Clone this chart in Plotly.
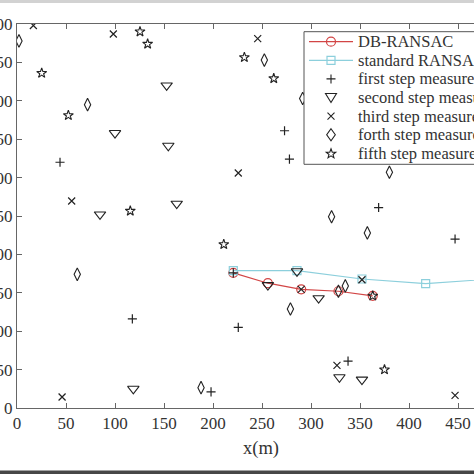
import math
import plotly.graph_objects as go

# ---- data ----
db_x = [220.7, 256, 290, 328, 363]
db_y = [176, 162.5, 154.5, 152, 146]

std_x = [220.7, 285.7, 352, 417, 485]
std_y = [179, 179, 168, 162, 168]

s1_x = [43.9, 117.7, 225.8, 198, 273, 278, 369, 447, 337.8, 220.7]
s1_y = [320, 116, 105, 21, 361, 324, 261, 220, 61, 176]

s2_x = [152.7, 100, 154.4, 84.7, 163, 118.7, 285.7, 256, 307.8, 329, 352]
s2_y = [420, 358, 341.5, 252, 266, 25, 178, 160, 143, 40, 37]

s3_x = [16.7, 98.3, 245.6, 46, 55.8, 225.8, 290, 352, 326.5, 447]
s3_y = [498, 487, 481, 14.3, 269.5, 306, 154.5, 167, 55.5, 16.5]

s4_x = [2, 72, 252.4, 291.5, 380, 321, 357.5, 61.5, 187.8, 279, 328, 335]
s4_y = [478, 395, 453, 403, 307, 249, 228, 174, 26.5, 129, 152, 159]

s5_x = [25.2, 52.4, 125.5, 133.3, 232, 262, 115.6, 211, 375, 363]
s5_y = [436, 381, 490, 474, 456.6, 429, 256.5, 213, 50, 146]

series_names = ["DB-RANSAC", "standard RANSAC", "first step measure", "second step measure",
                "third step measure", "forth step measure", "fifth step measure"]

x_ticks = [0, 50, 100, 150, 200, 250, 300, 350, 400, 450, 500]
y_ticks = [0, 50, 100, 150, 200, 250, 300, 350, 400, 450, 500]

FONT = "Liberation Serif"
BLK = "#222222"
TXT = "#333333"
RED = "#d24545"
CYAN = "#8ccfdc"
AX = "#666666"

# plot area in pixels
L, R, T, B = 17, 474, 24, 408
W, H = R - L, B - T


def px(x):
    return (x - L) / W


def py(y):
    return (B - y) / H


def path(pts_list):
    s = ""
    for pts, closed in pts_list:
        s += "M" + " L".join(f"{px(a):.5f},{py(b):.5f}" for a, b in pts)
        if closed:
            s += " Z"
        s += " "
    return s.strip()


fig = go.Figure()
fig.add_trace(go.Scatter(x=db_x, y=db_y, mode="lines+markers", name=series_names[0],
                         line=dict(color=RED, width=1.2),
                         marker=dict(symbol="circle-open", size=9, color=RED, line=dict(width=1.2))))
fig.add_trace(go.Scatter(x=std_x, y=std_y, mode="lines+markers", name=series_names[1],
                         line=dict(color=CYAN, width=1.2),
                         marker=dict(symbol="square-open", size=8, color=CYAN, line=dict(width=1.2))))
fig.add_trace(go.Scatter(x=s1_x, y=s1_y, mode="markers", name=series_names[2],
                         marker=dict(symbol="cross-thin-open", size=6.5, color=BLK, line=dict(width=1.2, color=BLK))))
fig.add_trace(go.Scatter(x=s2_x, y=s2_y, mode="markers", name=series_names[3],
                         marker=dict(symbol="triangle-down-open", size=10, color=BLK, line=dict(width=1.1, color=BLK))))
fig.add_trace(go.Scatter(x=s3_x, y=s3_y, mode="markers", name=series_names[4],
                         marker=dict(symbol="x-thin-open", size=7, color=BLK, line=dict(width=1.2, color=BLK))))
fig.add_trace(go.Scatter(x=s4_x, y=s4_y, mode="markers", name=series_names[5],
                         marker=dict(symbol="diamond-tall-open", size=9, color=BLK, line=dict(width=1.1, color=BLK))))
fig.add_trace(go.Scatter(x=s5_x, y=s5_y, mode="markers", name=series_names[6],
                         marker=dict(symbol="star-open", size=7.5, color=BLK, line=dict(width=1.1, color=BLK))))

# ---- custom legend (MATLAB-like compact rows) ----
leg_left, leg_top, leg_bottom = 304, 31.7, 164.3
row0, row_h = 41.7, 18.6
sym_x = 331
text_x = 355.5
shapes = [dict(type="rect", xref="paper", yref="paper", x0=px(leg_left), x1=px(490),
               y0=py(leg_bottom), y1=py(leg_top), fillcolor="white",
               line=dict(color="#555555", width=1), layer="above")]
annotations = []
for i, name in enumerate(series_names):
    yy = row0 + i * row_h
    annotations.append(dict(text=name, xref="paper", yref="paper", x=px(text_x), y=py(yy),
                            xanchor="left", yanchor="middle", showarrow=False,
                            font=dict(family=FONT, size=16.5, color=TXT)))
    sty = dict(xref="paper", yref="paper", layer="above")
    if i == 0 or i == 1:
        col = RED if i == 0 else CYAN
        shapes.append(dict(type="line", x0=px(309), x1=px(353), y0=py(yy), y1=py(yy),
                           line=dict(color=col, width=1.2), **sty))
        if i == 0:
            shapes.append(dict(type="circle", x0=px(sym_x - 4.5), x1=px(sym_x + 4.5),
                               y0=py(yy + 4.5), y1=py(yy - 4.5), fillcolor="rgba(0,0,0,0)",
                               line=dict(color=col, width=1.2), **sty))
        else:
            shapes.append(dict(type="rect", x0=px(sym_x - 4), x1=px(sym_x + 4),
                               y0=py(yy + 4), y1=py(yy - 4), fillcolor="rgba(0,0,0,0)",
                               line=dict(color=col, width=1.2), **sty))
        continue
    if i == 2:
        p = path([([(sym_x - 4.5, yy), (sym_x + 4.5, yy)], False),
                  ([(sym_x, yy - 4.5), (sym_x, yy + 4.5)], False)])
    elif i == 3:
        p = path([([(sym_x - 5.5, yy - 4), (sym_x + 5.5, yy - 4), (sym_x, yy + 5)], True)])
    elif i == 4:
        p = path([([(sym_x - 3.5, yy - 3.5), (sym_x + 3.5, yy + 3.5)], False),
                  ([(sym_x - 3.5, yy + 3.5), (sym_x + 3.5, yy - 3.5)], False)])
    elif i == 5:
        p = path([([(sym_x, yy - 6), (sym_x + 4.3, yy), (sym_x, yy + 6), (sym_x - 4.3, yy)], True)])
    else:
        pts = []
        for k in range(10):
            ang = -math.pi / 2 + k * math.pi / 5
            rr = 5 if k % 2 == 0 else 2.1
            pts.append((sym_x + rr * math.cos(ang), yy + 0.5 + rr * math.sin(ang)))
        p = path([(pts, True)])
    shapes.append(dict(type="path", path=p, fillcolor="rgba(0,0,0,0)",
                       line=dict(color=BLK, width=1.1), **sty))

# frame bands of the original image
shapes.append(dict(type="rect", xref="paper", yref="paper", x0=-0.05, x1=1.05,
                   y0=py(3), y1=py(-5), fillcolor="#d2d2d2", line=dict(width=0), layer="above"))
shapes.append(dict(type="rect", xref="paper", yref="paper", x0=-0.05, x1=1.05,
                   y0=py(480), y1=py(470.5), fillcolor="#474747", line=dict(width=0), layer="above"))

annotations.append(dict(text="x(m)", xref="paper", yref="paper", x=px(261), y=py(448),
                        xanchor="center", yanchor="middle", showarrow=False,
                        font=dict(family=FONT, size=18.5, color=TXT)))

fig.update_layout(
    width=474, height=474,
    margin=dict(l=L, r=474 - R, t=T, b=474 - B, autoexpand=False),
    paper_bgcolor="white", plot_bgcolor="white",
    font=dict(family=FONT, size=15, color=TXT),
    showlegend=False,
    xaxis=dict(range=[0, W / 0.98], tickvals=x_ticks, ticks="inside", ticklen=5,
               tickcolor=AX, showline=True, linecolor=AX, linewidth=1,
               mirror="ticks", showgrid=False, zeroline=False,
               tickfont=dict(family=FONT, size=17, color=TXT)),
    yaxis=dict(range=[0, 500], tickvals=y_ticks, ticks="inside", ticklen=5,
               tickcolor=AX, showline=True, linecolor=AX, linewidth=1,
               mirror=False, showgrid=False, zeroline=False,
               tickfont=dict(family=FONT, size=17, color=TXT)),
    annotations=annotations,
    shapes=shapes,
)

fig.write_html("out.html")
